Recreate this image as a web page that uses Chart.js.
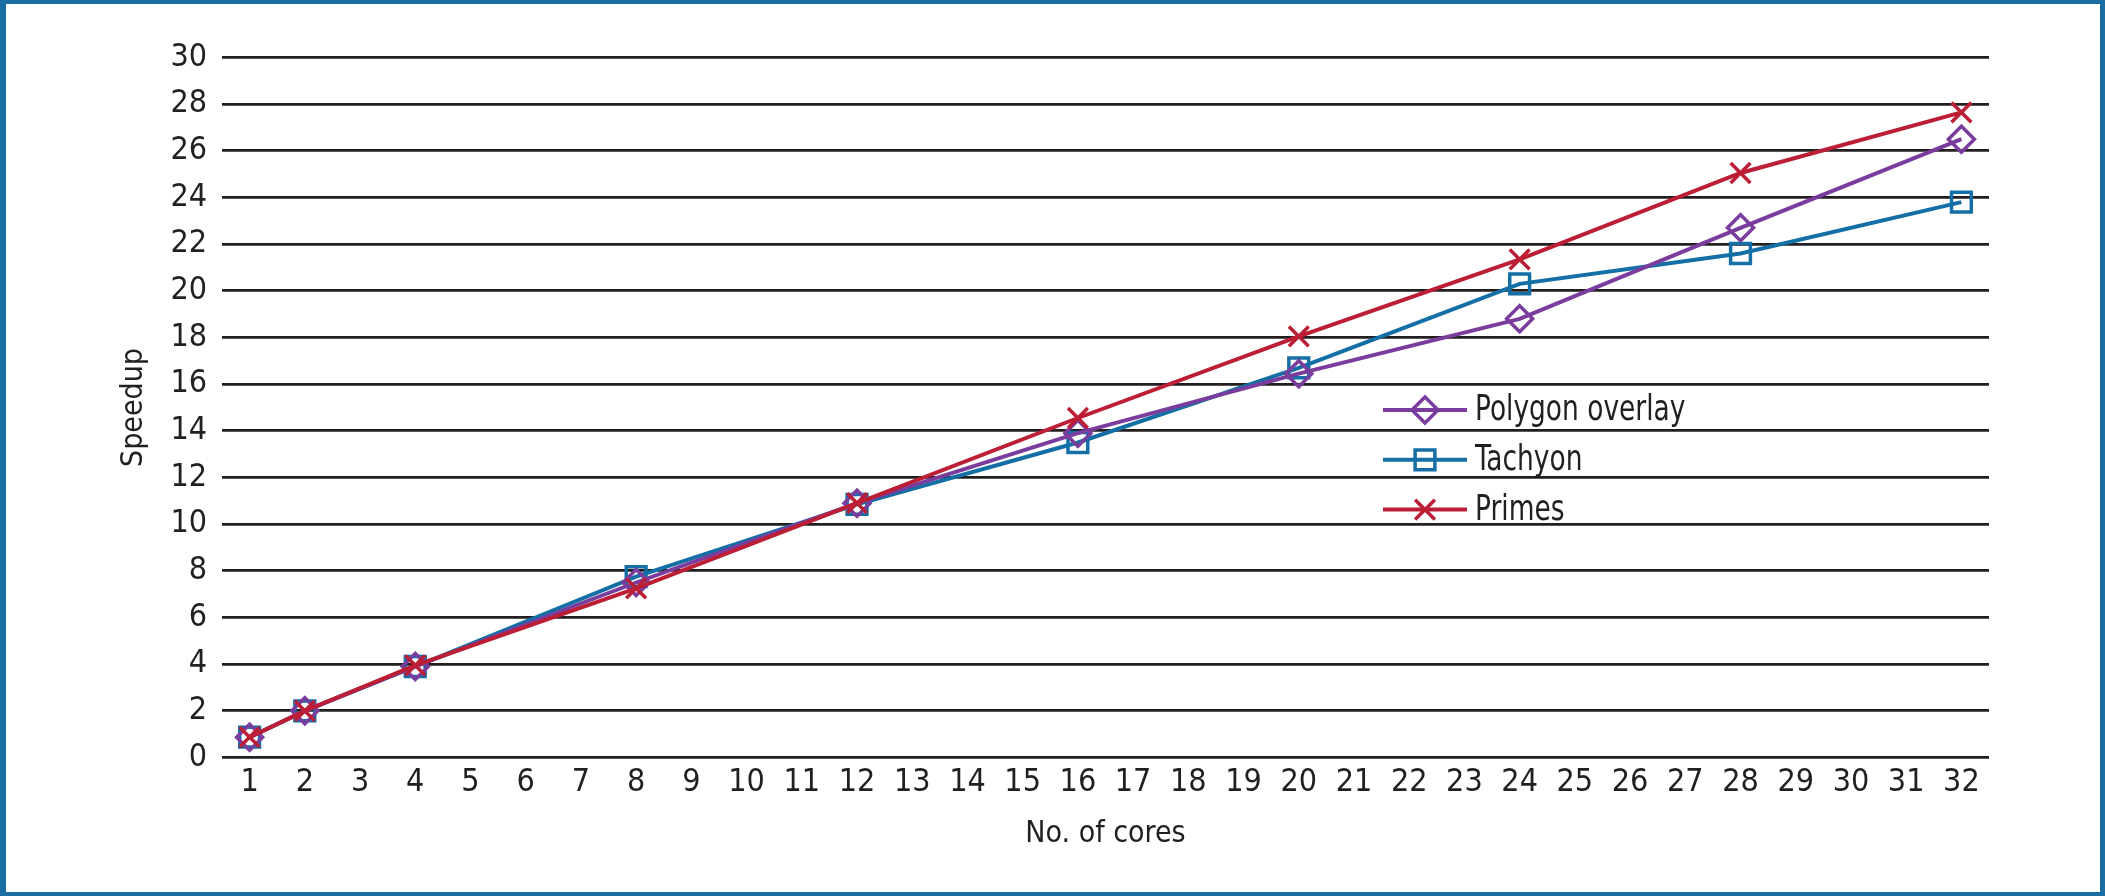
<!DOCTYPE html>
<html>
<head>
<meta charset="utf-8">
<script src="https://cdn.jsdelivr.net/npm/chart.js"></script>
<style>
  html, body { margin: 0; padding: 0; background: #ffffff; }
  #frame {
    width: 2105px; height: 896px; box-sizing: border-box;
    border-style: solid; border-color: #1a6ea3;
    border-width: 4px 5px 4px 6px; background: #ffffff;
  }
  canvas { display: block; }
</style>
</head>
<body>
<div id="frame"><canvas id="c" width="2094" height="888"></canvas></div>
<script>
// ---- data ----
const xLabels = ['1','2','3','4','5','6','7','8','9','10','11','12','13','14','15','16',
                 '17','18','19','20','21','22','23','24','25','26','27','28','29','30','31','32'];
const cores = [1, 2, 4, 8, 12, 16, 20, 24, 28, 32];
const polygonOverlay = [0.87, 2.0, 3.9, 7.5, 10.9, 13.9, 16.45, 18.8, 22.7, 26.5];
const tachyon        = [0.87, 2.0, 3.9, 7.75, 10.85, 13.5, 16.7, 20.3, 21.6, 23.8];
const primes         = [0.87, 2.0, 3.95, 7.25, 10.9, 14.55, 18.05, 21.35, 25.05, 27.65];
const seriesNames = ['Polygon overlay', 'Tachyon', 'Primes'];
const yMin = 0, yMax = 30, yStep = 2;
const xTitle = 'No. of cores';
const yTitle = 'Speedup';

// ---- style ----
const FONT = "'Liberation Sans Narrow', 'DejaVu Sans Condensed', 'Arial Narrow', sans-serif";
const TEXT = '#231f20';
const PURPLE = '#7a3d9e', BLUE = '#136fa5', RED = '#bc1e35';

function toPoints(vals) { return cores.map((c, i) => ({ x: String(c), y: vals[i] })); }

function drawMarker(ctx, style, x, y, r, bw, color) {
  ctx.save();
  ctx.strokeStyle = color; ctx.lineWidth = bw;
  ctx.beginPath();
  if (style === 'rectRot') {
    ctx.moveTo(x - r, y); ctx.lineTo(x, y - r); ctx.lineTo(x + r, y); ctx.lineTo(x, y + r); ctx.closePath();
  } else if (style === 'rect') {
    const s = Math.SQRT1_2 * r; ctx.rect(x - s, y - s, 2 * s, 2 * s);
  } else {
    const s = Math.SQRT1_2 * r;
    ctx.moveTo(x - s, y - s); ctx.lineTo(x + s, y + s);
    ctx.moveTo(x + s, y - s); ctx.lineTo(x - s, y + s);
  }
  ctx.stroke();
  ctx.restore();
}

const legendPlugin = {
  id: 'lineLegend',
  afterDraw(chart) {
    const ctx = chart.ctx, a = chart.chartArea;
    const x0 = a.left + 1161, lineW = 84, y0 = a.top + 352.5, rowH = 49.8;
    chart.data.datasets.forEach((ds, i) => {
      const y = y0 + i * rowH;
      ctx.save();
      ctx.strokeStyle = ds.borderColor; ctx.lineWidth = ds.borderWidth;
      ctx.beginPath(); ctx.moveTo(x0, y); ctx.lineTo(x0 + lineW, y); ctx.stroke();
      drawMarker(ctx, ds.pointStyle, x0 + lineW / 2, y, ds.pointRadius, ds.pointBorderWidth, ds.borderColor);
      ctx.fillStyle = TEXT; ctx.font = '35px ' + FONT;
      ctx.textBaseline = 'middle'; ctx.textAlign = 'left';
      const tx = x0 + lineW + 8;
      ctx.translate(tx, y + 1);
      ctx.scale(0.84, 1);
      ctx.fillText(ds.label, 0, 0);
      ctx.restore();
    });
  }
};

function mkDataset(label, vals, color, style, radius, order) {
  return {
    label, data: toPoints(vals), borderColor: color, backgroundColor: color,
    borderWidth: 4, tension: 0, spanGaps: true, order,
    pointStyle: style, pointRadius: radius, pointHoverRadius: radius,
    pointBorderWidth: 3.5, pointBorderColor: color, pointBackgroundColor: 'rgba(0,0,0,0)'
  };
}

new Chart(document.getElementById('c'), {
  type: 'line',
  data: {
    labels: xLabels,
    datasets: [
      mkDataset(seriesNames[0], polygonOverlay, PURPLE, 'rectRot', 13, 1),
      mkDataset(seriesNames[1], tachyon, BLUE, 'rect', 14, 2),
      mkDataset(seriesNames[2], primes, RED, 'crossRot', 14, 0)
    ]
  },
  plugins: [legendPlugin],
  options: {
    responsive: false,
    animation: false,
    devicePixelRatio: 1,
    layout: { padding: { left: 0, top: 53.5, right: 111, bottom: 0 } },
    plugins: { legend: { display: false }, tooltip: { enabled: false } },
    scales: {
      x: {
        type: 'category',
        offset: true,
        grid: { display: false, drawTicks: false },
        border: { display: false },
        ticks: {
          autoSkip: false, maxRotation: 0, minRotation: 0, padding: 6,
          color: TEXT, font: { family: FONT, size: 32 }
        },
        title: {
          display: true, text: xTitle, color: TEXT,
          font: { family: FONT, size: 30 }, padding: { top: 0, bottom: 40 }
        },
        afterFit(scale) { scale.height = 134.5; }
      },
      y: {
        min: yMin, max: yMax,
        grid: { color: TEXT, lineWidth: 2.7, drawTicks: false },
        border: { display: false },
        ticks: {
          stepSize: yStep, padding: 15, color: TEXT,
          font: { family: FONT, size: 32 }
        },
        title: {
          display: true, text: yTitle, color: TEXT,
          font: { family: FONT, size: 30 }, padding: { top: 110, bottom: 0 }
        },
        afterFit(scale) { scale.width = 216; }
      }
    }
  }
});
</script>
</body>
</html>
